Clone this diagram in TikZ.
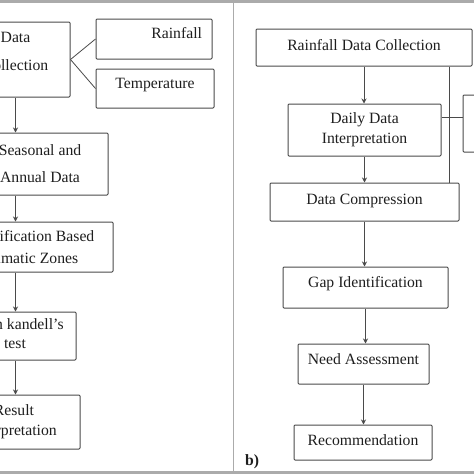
\documentclass[tikz,border=0pt]{standalone}
\usepackage{fontspec}
\setmainfont{Liberation Serif}
\usetikzlibrary{positioning,arrows.meta}
\definecolor{framegray}{HTML}{ABABAB}
\definecolor{boxgray}{HTML}{4A4A4A}
\definecolor{txtgray}{HTML}{1E1E1E}

\begin{document}
\begin{tikzpicture}[
    x=1pt, y=-1pt,
    every node/.style={font=\fontsize{15.7}{20}\selectfont, text=txtgray},
    box/.style={draw=boxgray, line width=1pt, rounded corners=1pt, inner sep=0pt, align=center},
    lift/.style={text height=10pt, text depth=#1},
    arr/.style={draw=boxgray, line width=0.8pt, -{Stealth[length=5pt,width=5pt]}},
    link/.style={draw=boxgray, line width=0.8pt}
  ]
  \useasboundingbox (0,0) rectangle (474,474);
  % frame of the two panels
  \draw[framegray, line width=3pt] (0,1.5) -- (474,1.5);
  \draw[framegray, line width=3pt] (0,472.5) -- (474,472.5);
  \draw[framegray, line width=1.5pt] (233.5,0) -- (233.5,474);

  % panel a
  \node[box, minimum width=109pt, minimum height=75pt, text depth=16pt] (dcol) at (15.5,59.5) {Data\\[8pt]Collection};
  \node[box, minimum width=116pt, minimum height=40pt, text width=96pt, align=right, lift=12pt] (rain) at (154,39) {Rainfall};
  \node[box, minimum width=118pt, minimum height=39pt, lift=10pt] (temp) at (155,88.5) {Temperature};
  \node[box, minimum width=136pt, minimum height=62pt] (seas) at (40,164) {Seasonal and\\[7pt]Annual Data};
  \node[box, minimum width=166pt, minimum height=50pt] (clas) at (30,247) {Classification Based\\[2pt]Climatic Zones};
  \node[box, minimum width=122pt, minimum height=48pt, text depth=5pt] (mann) at (15,336) {Mann kandell's\\[-1pt]test};
  \node[box, minimum width=132pt, minimum height=54pt] (res) at (14,422) {Result\\Interpretation};
  \draw[link] (dcol.east) -- (rain.west);
  \draw[link] (dcol.east) -- (temp.west);
  \foreach \a/\b in {dcol/seas, seas/clas, clas/mann, mann/res} {
    \draw[arr] (dcol.south |- \a.south) -- (dcol.south |- \b.north);
  }

  % panel b
  \node[box, minimum width=216pt, minimum height=37pt, lift=5pt] (rdc) at (364,47.5) {Rainfall Data Collection};
  \node[box, minimum width=153pt, minimum height=52pt] (ddi) at (364.5,130) {Daily Data\\Interpretation};
  \node[box, minimum width=57pt, minimum height=57pt] (side) at (491.5,123.5) {};
  \node[box, minimum width=189pt, minimum height=38pt, lift=6pt] (dcomp) at (364.5,202) {Data Compression};
  \node[box, minimum width=165pt, minimum height=41pt, lift=11pt] (gap) at (365.5,287.5) {Gap Identification};
  \node[box, minimum width=131pt, minimum height=40pt, lift=10pt] (need) at (363.5,364) {Need Assessment};
  \node[box, minimum width=138pt, minimum height=35pt, lift=5pt] (rec) at (363,442.5) {Recommendation};
  \foreach \a/\b in {rdc/ddi, ddi/dcomp, dcomp/gap, gap/need, need/rec} {
    \draw[arr] (\a.south) -- (\a.south |- \b.north);
  }
  \draw[link] ([xshift=85pt]rdc.south) -- ([xshift=85pt]rdc.south |- dcomp.north);
  \draw[link] ([yshift=13pt]ddi.east) -- ([yshift=13pt]ddi.east -| side.west);
  \node[font=\bfseries\fontsize{15.7}{18}\selectfont, anchor=west, inner sep=0pt] (blab) at (245,462) {b)};
\end{tikzpicture}
\end{document}
